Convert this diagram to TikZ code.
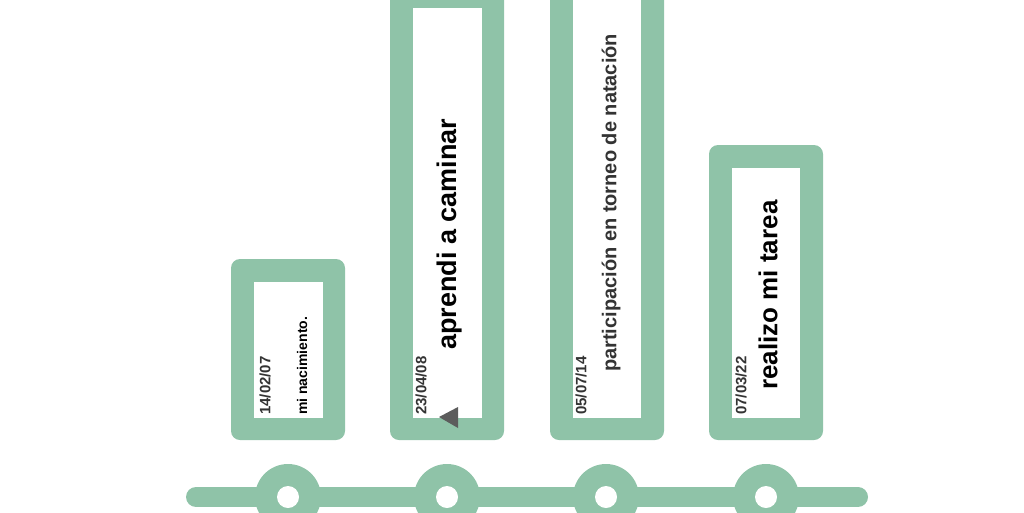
\documentclass[tikz,border=0pt]{standalone}
\usepackage{fontspec}
\setmainfont{Liberation Sans}
\definecolor{gr}{HTML}{8FC3A8}
\definecolor{dk}{HTML}{333333}
\begin{document}
\begin{tikzpicture}[x=1pt,y=-1pt,
  bar/.style={fill=gr,rounded corners=9pt},
  inner/.style={fill=white},
  dt/.style={rotate=90,anchor=west,inner sep=0,text=dk,font=\bfseries\fontsize{15}{15}\selectfont},
  lbl/.style={rotate=90,anchor=west,inner sep=0}]
\useasboundingbox (0,0) rectangle (1024,512);
\clip (0,0) rectangle (1024,512);
% timeline
\draw[gr,line width=20pt,line cap=round] (196,497) -- (858,497);
\foreach \x/\n in {288/c1,447/c2,606/c3,766/c4}{
  \fill[gr] (\x,497) circle (33);
  \node[circle,fill=white,minimum size=22pt,inner sep=0] (\n) at (\x,497) {};
}
% bars
\fill[bar] (231,259) rectangle (345,440);
\fill[inner] (254,282) rectangle (323,418);
\fill[bar] (390,-20) rectangle (504,440);
\fill[inner] (413,8) rectangle (482,418);
\fill[bar] (550,-20) rectangle (664,440);
\fill[inner] (573,-20) rectangle (641,418);
\fill[bar] (709,145) rectangle (823,440);
\fill[inner] (732,168) rectangle (800,418);
% texts
\node[dt] (d1) at (265,415) {14/02/07};
\node[lbl,font=\bfseries\fontsize{14}{14}\selectfont] (t1) at (302,415) {mi nacimiento.};
\node[dt] (d2) at (421,415) {23/04/08};
\node[lbl,font=\bfseries\fontsize{27}{27}\selectfont] (t2) at (450,350) {aprendi a caminar};
\node[dt] (d3) at (581,415) {05/07/14};
\node[lbl,text=dk,font=\bfseries\fontsize{20}{20}\selectfont] (t3) at (611,372) {participación en torneo de natación};
\node[dt] (d4) at (741,415) {07/03/22};
\node[lbl,font=\bfseries\fontsize{26}{26}\selectfont] (t4) at (768,390) {realizo mi tarea};
\fill[dk!80] (439,417) -- (458,407) -- (458,428) -- cycle;
\end{tikzpicture}
\end{document}
